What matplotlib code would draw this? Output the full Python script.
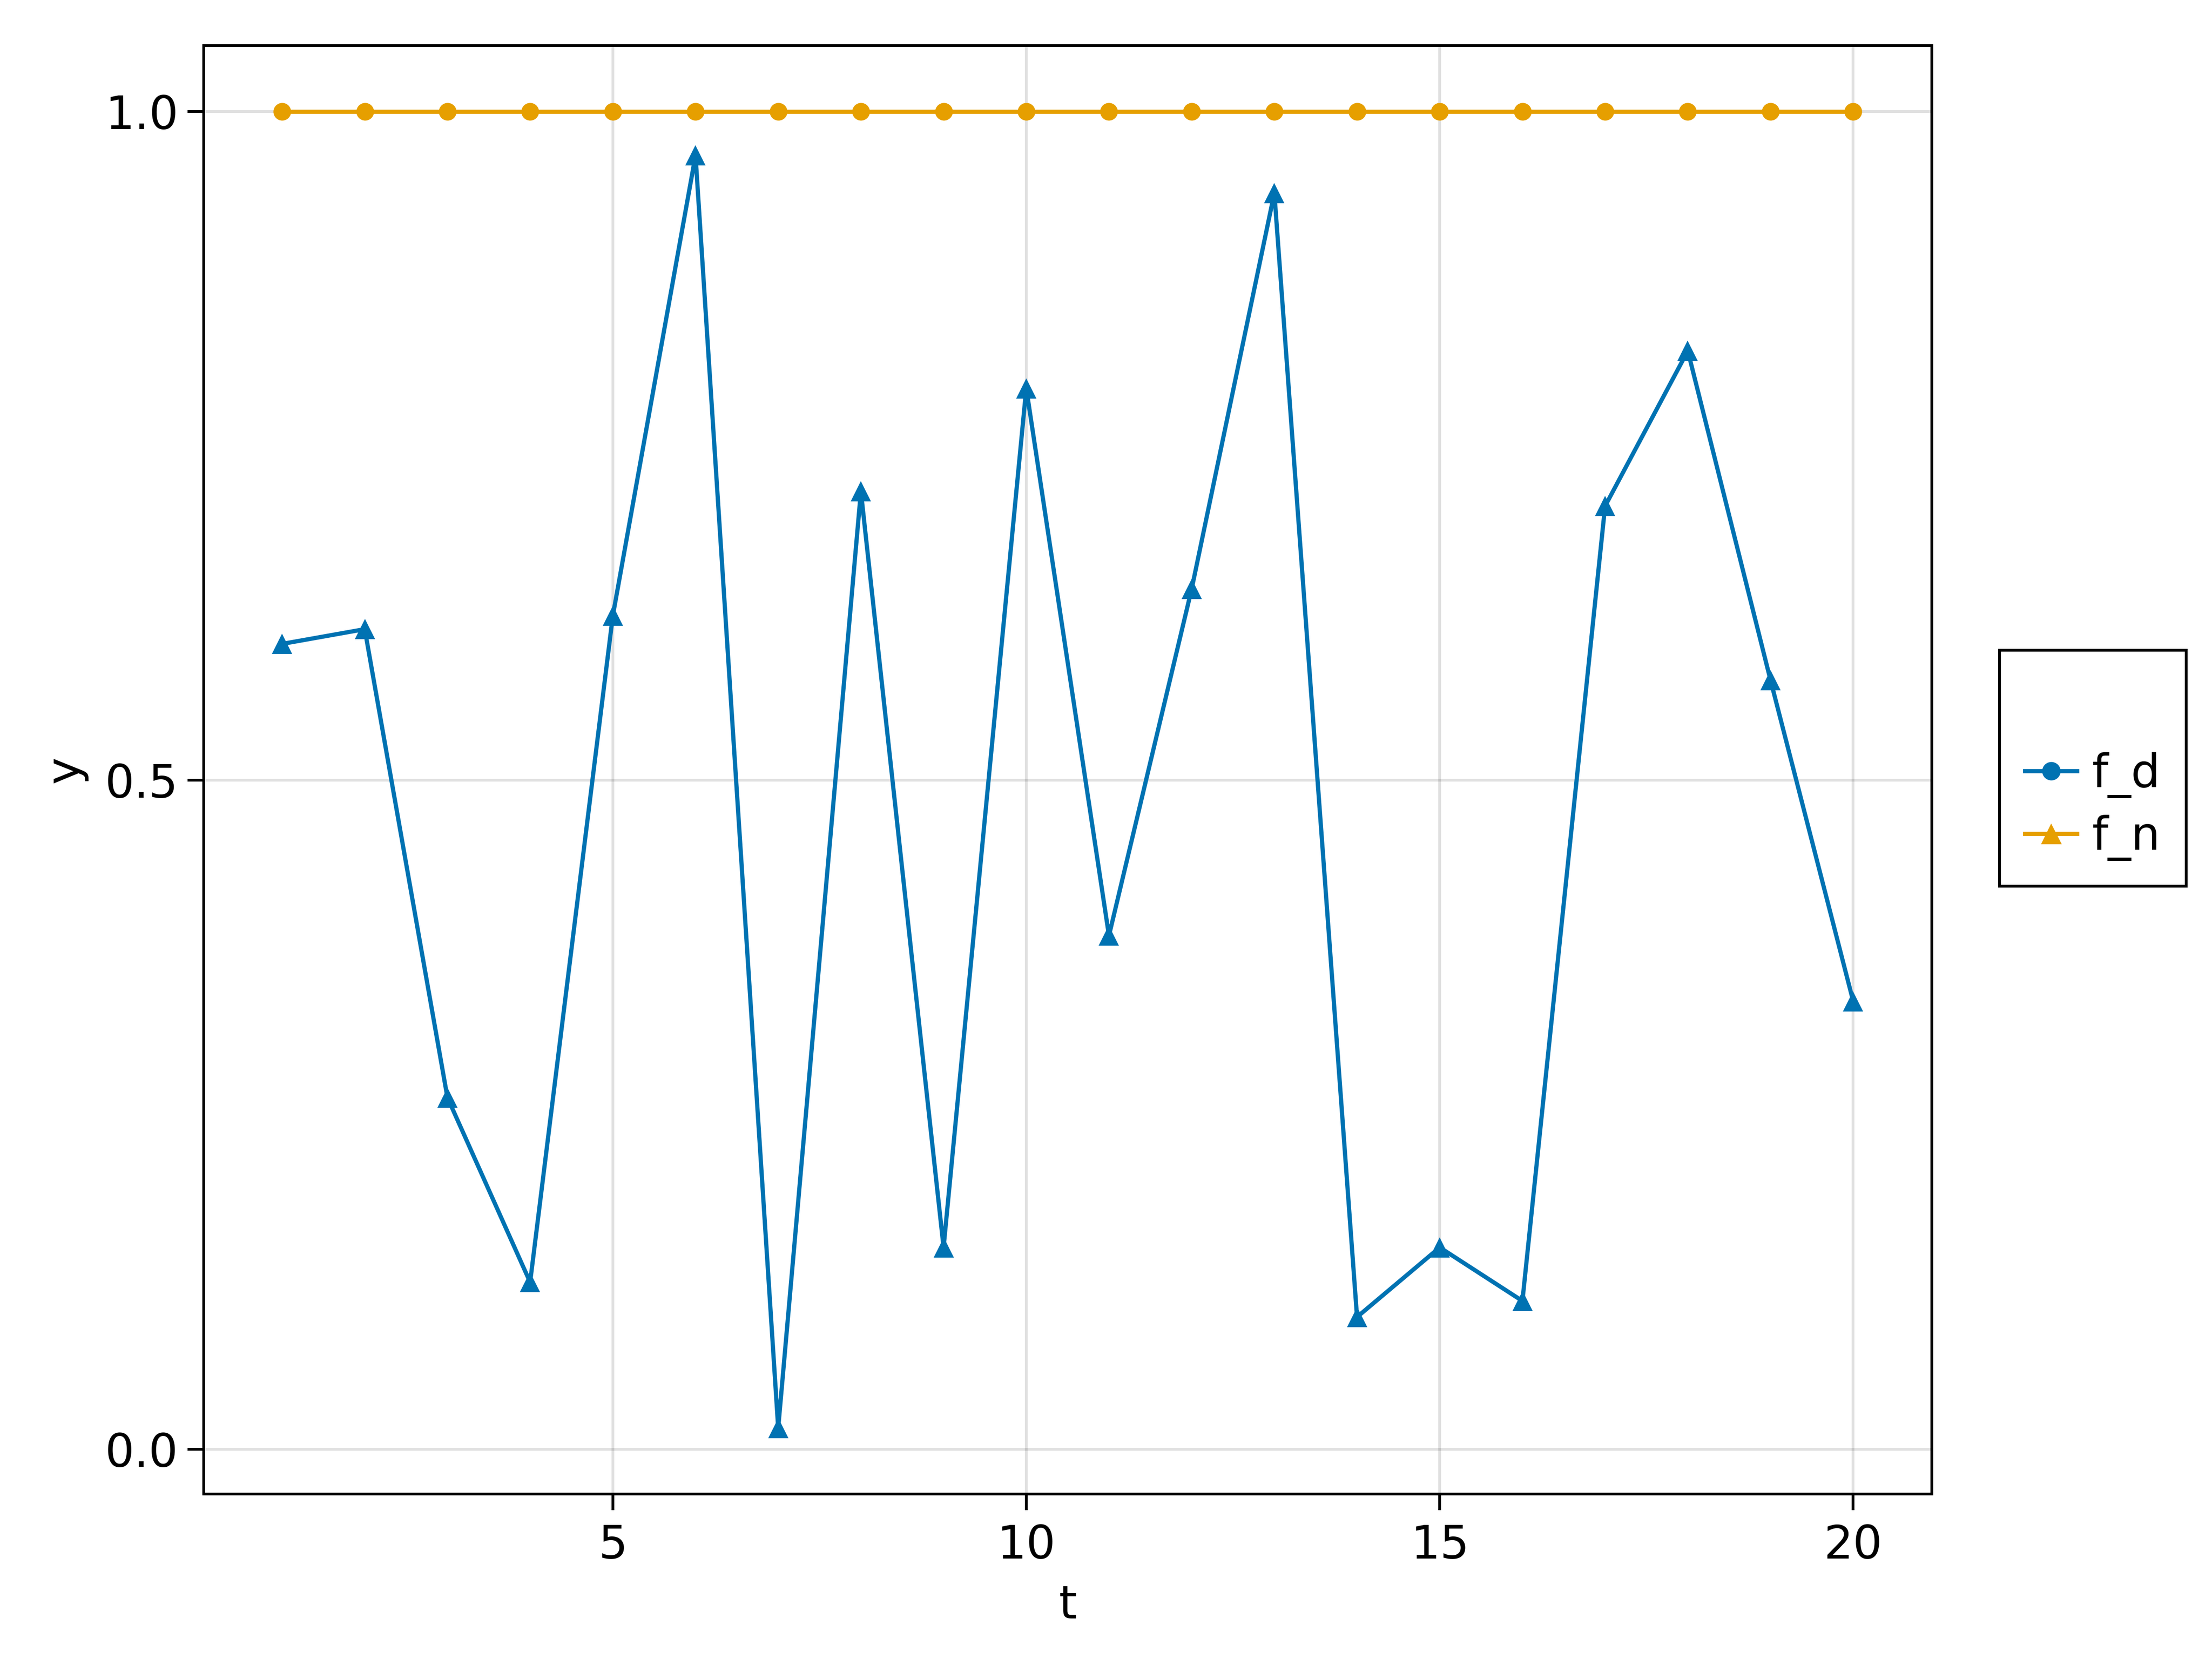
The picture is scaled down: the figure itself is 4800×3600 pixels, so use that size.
import matplotlib
matplotlib.use("Agg")
import matplotlib.pyplot as plt
from matplotlib.lines import Line2D

t = list(range(1, 21))
f_d = [0.602, 0.613, 0.263, 0.125, 0.623, 0.967, 0.016, 0.716, 0.151, 0.793,
       0.384, 0.643, 0.939, 0.099, 0.151, 0.111, 0.705, 0.821, 0.575, 0.335]
f_n = [1.0] * 20
labels = ["f_d", "f_n"]
xticks = [5, 10, 15, 20]
yticks = [0.0, 0.5, 1.0]

blue = "#0072B2"
orange = "#E69F00"
FS = 12

plt.rcParams['font.family'] = ['DejaVu Sans']
fig = plt.figure(figsize=(8, 6), dpi=600)
ax = fig.add_axes([0.092, 0.0995, 0.7813, 0.8731])

ax.plot(t, f_d, color=blue, lw=1.1, zorder=3)
ax.plot(t, f_d, ls='none', marker='^', ms=5.2, color=blue, mec='none', zorder=4)
ax.plot(t, f_n, color=orange, lw=1.1, zorder=3)
ax.plot(t, f_n, ls='none', marker='o', ms=4.6, color=orange, mec='none', zorder=4)

ax.margins(0.05)
ax.set_xticks(xticks)
ax.set_yticks(yticks)
ax.set_yticklabels([f"{v:.1f}" for v in yticks])
ax.grid(True, color='black', alpha=0.12, lw=0.72)
ax.set_axisbelow(True)
for s in ax.spines.values():
    s.set_linewidth(0.72)
ax.tick_params(direction='out', length=4.2, width=0.72, labelsize=FS)
ax.tick_params(axis='x', pad=3.5)
ax.tick_params(axis='y', pad=2.4)
ax.set_xlabel("t", fontsize=FS, labelpad=4)
ax.set_ylabel("y", fontsize=FS, labelpad=4.5)

handles = [
    Line2D([], [], color=blue, lw=1.1, marker='o', ms=4.8, mec='none'),
    Line2D([], [], color=orange, lw=1.1, marker='^', ms=5.4, mec='none'),
]
leg = fig.legend(handles, labels, loc='upper left', bbox_to_anchor=(0.904, 0.608),
                 borderaxespad=0, fontsize=FS, title=" ", title_fontsize=16,
                 frameon=True, fancybox=False, framealpha=1, edgecolor='black',
                 handlelength=1.13, handletextpad=0.33, borderpad=0.55, labelspacing=0.36)
leg.get_frame().set_linewidth(0.72)

fig.savefig("out.png", dpi=600)
